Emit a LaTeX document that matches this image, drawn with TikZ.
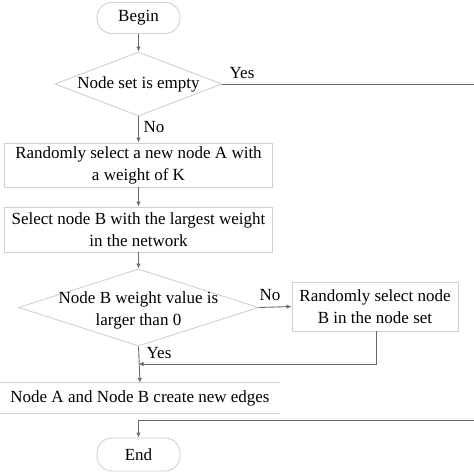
\documentclass[tikz,border=0pt]{standalone}
\usepackage{fontspec}
\setmainfont{Liberation Serif}
\usetikzlibrary{shapes.geometric,arrows.meta}
\definecolor{bordc}{HTML}{D0D0D0}
\definecolor{linec}{HTML}{6A6A6A}
\begin{document}
\begin{tikzpicture}[x=1pt,y=1pt,
  every node/.style={font=\fontsize{17}{22}\selectfont, text=black},
  term/.style={draw=bordc, line width=0.9pt, rounded corners=15pt, minimum width=83pt, minimum height=31pt, inner sep=0pt},
  procbox/.style={draw=bordc, line width=0.9pt, align=center, inner sep=0pt},
  dia/.style={diamond, draw=bordc, line width=0.9pt, inner sep=0pt},
  lbl/.style={inner sep=0pt},
  conn/.style={draw=linec, line width=0.9pt},
  arr/.style={conn, -{Latex[length=5pt,width=4.5pt]}}
]
\useasboundingbox (0,0) rectangle (474,-474);

\node[term] (begin) at (138.5,-18) {Begin};
\node[dia, minimum width=167pt, minimum height=64pt] (d1) at (138.5,-84) {};
\node[lbl] (d1t) at (d1.center) {Node set is empty};
\node[procbox, minimum width=268pt, minimum height=44pt] (b1) at (138.5,-165) {Randomly select a new node A with\\a weight of K};
\node[procbox, minimum width=268pt, minimum height=45pt] (b2) at (138.5,-229.5) {Select node B with the largest weight\\in the network};
\node[dia, minimum width=240pt, minimum height=77pt] (d2) at (138.5,-307.5) {};
\node[lbl, align=center] (d2t) at (138.5,-310) {Node B weight value is\\larger than 0};
\node[procbox, minimum width=166pt, minimum height=49pt] (b3) at (375,-306.5) {Randomly select node\\B in the node set};
\node[inner sep=0pt, minimum width=280pt, minimum height=30pt] (b4) at (140,-398) {Node A and Node B create new edges};
\draw[draw=bordc, line width=0.9pt] (b4.north west) -- (b4.north east) (b4.south west) -- (b4.south east);
\node[term, minimum height=33pt] (end) at (138.5,-454.5) {End};

\coordinate (yesend) at (474,-84);
\coordinate (loopin) at (474,-420);
\coordinate (loopc) at (138.5,-420);
\coordinate (merge) at (138.5,-364);
\coordinate (b3c) at (376,-364);
\coordinate (b3s) at (376,-331);

\draw[arr] (begin.south) -- (d1.north);
\draw[conn] (d1.east) -- (yesend);
\node[lbl] (yes1) at (242,-73) {Yes};
\draw[arr] (d1.south) -- (b1.north);
\node[lbl] (no1) at (154,-127) {No};
\draw[arr] (b1.south) -- (b2.north);
\draw[arr] (b2.south) -- (d2.north);
\draw[arr] (d2.east) -- (b3.west);
\node[lbl] (no2) at (270,-295) {No};
\draw[arr] (b3s) -- (b3c) -- (merge);
\draw[arr] (d2.south) -- (b4.north);
\node[lbl] (yes2) at (159,-353) {Yes};
\draw[arr] (loopin) -- (loopc) -- (end.north);
\end{tikzpicture}
\end{document}
